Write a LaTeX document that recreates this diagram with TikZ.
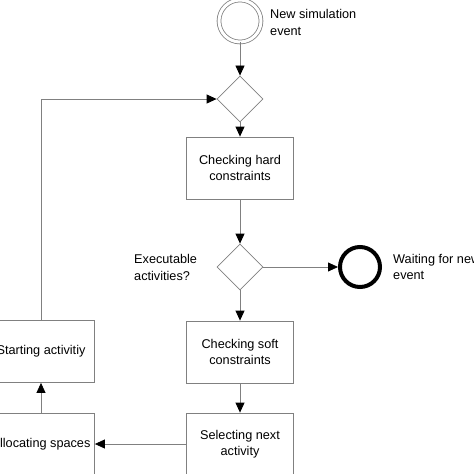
\documentclass[tikz,border=0pt]{standalone}
\usepackage{fontspec}
\setmainfont{Liberation Sans}
\usetikzlibrary{shapes.geometric,arrows.meta}

\definecolor{linegray}{RGB}{128,128,128}

\tikzset{
  task/.style={rectangle, draw=linegray, line width=0.8pt, minimum width=107pt,
    minimum height=62pt, align=center, inner sep=2pt},
  gate/.style={diamond, draw=linegray, line width=0.8pt, minimum width=46pt,
    minimum height=46pt, inner sep=0pt},
  startev/.style={circle, draw=linegray, line width=0.8pt, double=white,
    double distance=3pt, minimum size=42pt, inner sep=0pt},
  endev/.style={circle, draw=black, line width=4pt, minimum size=40pt, inner sep=0pt},
  lbl/.style={anchor=west, align=left, inner sep=0pt},
  flow/.style={draw=linegray, line width=0.8pt, -{Triangle[length=10pt,width=9pt,color=black]}},
}

\begin{document}
\begin{tikzpicture}[x=1pt, y=-1pt, font=\fontsize{12.7}{16.5}\selectfont]

\useasboundingbox (0,0) rectangle (474,474);

%% events
\node[startev] (new) at (240,21) {};          %% start
\node[endev] (wait) at (360,267) {};          %% end

%% gateways
\node[gate] (g1) at (240,99) {};
\node[gate] (g2) at (240,267) {};

%% tasks
\node[task] (hard) at (240,168) {Checking hard\\constraints};
\node[task] (soft) at (240,352) {Checking soft\\constraints};
\node[task] (select) at (240,444) {Selecting next\\activity};
\node[task] (alloc) at (41,444) {Allocating spaces};
\node[task] (start) at (41,351.5) {Starting activitiy};

%% labels
\node[lbl] (newlbl) at (270,22.5) {New simulation\\event};
\node[lbl] (waitlbl) at (393,267) {Waiting for new\\event};
\node[lbl] (g2lbl) at (134,267.5) {Executable\\activities?};

%% flows
\draw[flow] (new) -- (g1);        %% new -> g1
\draw[flow] (g1) -- (hard);       %% g1 -> hard
\draw[flow] (hard) -- (g2);       %% hard -> g2
\draw[flow] (g2) -- (wait);       %% g2 -> wait
\draw[flow] (g2) -- (soft);       %% g2 -> soft
\draw[flow] (soft) -- (select);   %% soft -> select
\draw[flow] (select) -- (alloc);  %% select -> alloc
\draw[flow] (alloc) -- (start);   %% alloc -> start
\draw[flow] (start.north) |- (g1.west); %% start -> g1

\end{tikzpicture}
\end{document}
